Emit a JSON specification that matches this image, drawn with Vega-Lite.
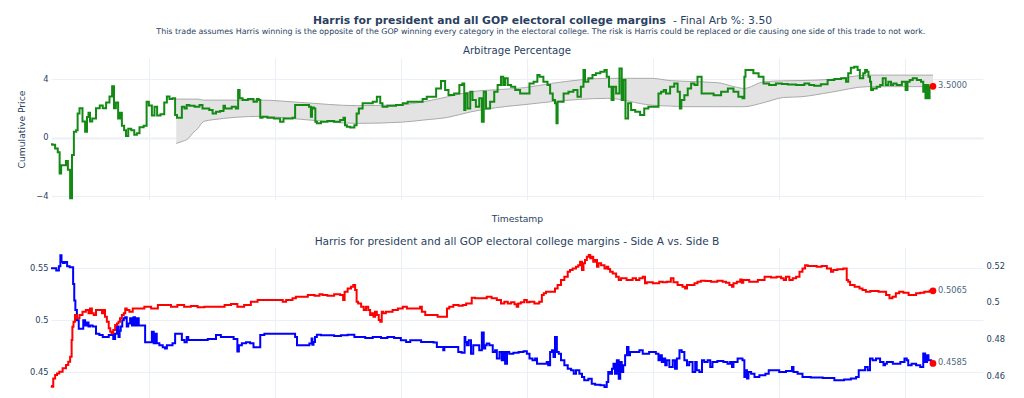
{
"$schema": "https://vega.github.io/schema/vega-lite/v6.json",
"background": "white",
"padding": {"left": 17, "top": 15, "right": 5, "bottom": 0},
"bounds": "flush",
"config": {
  "font": "DejaVu Sans",
  "view": {"stroke": null},
  "axis": {"gridColor": "#EBF0F8", "gridWidth": 1, "domain": false, "ticks": false, "labelColor": "#2a3f5f", "labelFontSize": 8.3, "labelFont": "DejaVu Sans", "titleColor": "#2a3f5f", "titleFontSize": 9.2, "titleFontWeight": "normal", "titleFont": "DejaVu Sans", "labelPadding": 3, "labelOverlap": false},
  "title": {"font": "DejaVu Sans", "color": "#2a3f5f", "subtitleFont": "DejaVu Sans", "subtitleColor": "#2a3f5f"}
},
"title": {
  "text": "Harris for president and all GOP electoral college margins",
  "anchor": "start", "frame": "group", "dx": 262,
  "fontSize": 10.8, "fontWeight": "bold", "offset": -10.8
},
"datasets": {
"arb": [
{"h":0,"v":-0.45},{"h":4,"v":-0.5},{"h":7,"v":-0.75},{"h":11,"v":-1.0},{"h":12,"v":-2.45},{"h":15,"v":-1.9},{"h":19,"v":-1.9},{"h":21,"v":-1.6},{"h":24,"v":-2.2},{"h":27,"v":-4.15},{"h":29,"v":-1.2},{"h":32,"v":0.4},{"h":35,"v":0.5},{"h":36,"v":1.65},{"h":40,"v":2.0},{"h":44,"v":1.1},{"h":47,"v":0.4},{"h":49,"v":1.4},{"h":51,"v":1.7},{"h":53,"v":1.1},{"h":57,"v":1.3},{"h":63,"v":2.0},{"h":67,"v":2.2},{"h":71,"v":2.0},{"h":76,"v":2.4},{"h":80,"v":2.8},{"h":83,"v":3.5},{"h":85,"v":2.0},{"h":88,"v":2.4},{"h":91,"v":1.3},{"h":93,"v":1.7},{"h":96,"v":0.8},{"h":99,"v":0.5},{"h":101,"v":0.1},{"h":105,"v":0.6},{"h":109,"v":0.5},{"h":113,"v":0.2},{"h":116,"v":0.3},{"h":120,"v":0.7},{"h":127,"v":0.8},{"h":128,"v":2.45},{"h":133,"v":2.2},{"h":136,"v":1.5},{"h":140,"v":2.1},{"h":143,"v":1.5},{"h":149,"v":1.6},{"h":153,"v":2.4},{"h":156,"v":2.8},{"h":160,"v":2.63},{"h":164,"v":2.68},{"h":167,"v":1.54},{"h":169,"v":1.36},{"h":173,"v":1.36},{"h":176,"v":2.11},{"h":180,"v":1.99},{"h":182,"v":2.22},{"h":187,"v":2.18},{"h":196,"v":2.11},{"h":200,"v":2.22},{"h":204,"v":1.99},{"h":209,"v":1.99},{"h":213,"v":1.88},{"h":218,"v":1.65},{"h":222,"v":1.77},{"h":229,"v":1.81},{"h":231,"v":2.18},{"h":233,"v":1.99},{"h":238,"v":1.99},{"h":244,"v":2.11},{"h":249,"v":1.99},{"h":250,"v":3.25},{"h":253,"v":2.68},{"h":258,"v":2.56},{"h":267,"v":2.63},{"h":273,"v":2.45},{"h":276,"v":2.63},{"h":278,"v":2.56},{"h":280,"v":1.36},{"h":284,"v":1.42},{"h":293,"v":1.36},{"h":302,"v":1.31},{"h":309,"v":1.08},{"h":311,"v":1.31},{"h":320,"v":1.31},{"h":324,"v":1.36},{"h":327,"v":2.22},{"h":338,"v":2.22},{"h":342,"v":2.22},{"h":346,"v":2.11},{"h":347,"v":1.42},{"h":349,"v":2.05},{"h":352,"v":1.99},{"h":353,"v":1.08},{"h":356,"v":0.97},{"h":364,"v":1.08},{"h":373,"v":1.13},{"h":382,"v":1.08},{"h":389,"v":1.2},{"h":391,"v":1.36},{"h":393,"v":0.85},{"h":396,"v":0.74},{"h":402,"v":0.68},{"h":407,"v":0.85},{"h":408,"v":1.65},{"h":413,"v":1.99},{"h":418,"v":2.34},{"h":427,"v":2.34},{"h":431,"v":2.45},{"h":438,"v":2.79},{"h":440,"v":2.34},{"h":444,"v":2.11},{"h":453,"v":2.18},{"h":467,"v":2.22},{"h":471,"v":2.34},{"h":480,"v":2.45},{"h":493,"v":2.45},{"h":498,"v":2.63},{"h":504,"v":2.79},{"h":511,"v":2.79},{"h":516,"v":3.36},{"h":524,"v":3.86},{"h":527,"v":3.25},{"h":533,"v":2.91},{"h":542,"v":3.02},{"h":547,"v":3.59},{"h":550,"v":3.7},{"h":552,"v":1.88},{"h":553,"v":3.02},{"h":558,"v":1.99},{"h":560,"v":3.13},{"h":564,"v":2.56},{"h":569,"v":2.11},{"h":573,"v":2.68},{"h":576,"v":1.08},{"h":578,"v":3.13},{"h":582,"v":1.99},{"h":589,"v":2.45},{"h":593,"v":3.13},{"h":598,"v":3.59},{"h":602,"v":4.16},{"h":604,"v":3.59},{"h":607,"v":4.05},{"h":611,"v":3.59},{"h":616,"v":3.48},{"h":622,"v":3.25},{"h":629,"v":3.02},{"h":636,"v":3.02},{"h":640,"v":3.7},{"h":647,"v":3.82},{"h":650,"v":4.27},{"h":653,"v":4.16},{"h":660,"v":3.82},{"h":664,"v":3.59},{"h":667,"v":3.02},{"h":671,"v":2.56},{"h":673,"v":2.34},{"h":675,"v":0.97},{"h":676,"v":2.45},{"h":680,"v":2.45},{"h":687,"v":3.02},{"h":693,"v":3.13},{"h":700,"v":3.25},{"h":704,"v":2.79},{"h":709,"v":3.48},{"h":711,"v":4.62},{"h":713,"v":3.82},{"h":720,"v":4.05},{"h":724,"v":4.27},{"h":729,"v":4.39},{"h":736,"v":4.5},{"h":740,"v":4.62},{"h":742,"v":4.16},{"h":746,"v":3.48},{"h":749,"v":2.56},{"h":751,"v":3.48},{"h":756,"v":3.02},{"h":760,"v":4.73},{"h":762,"v":2.56},{"h":764,"v":3.93},{"h":768,"v":1.31},{"h":771,"v":2.34},{"h":776,"v":1.88},{"h":782,"v":1.77},{"h":789,"v":1.54},{"h":793,"v":1.99},{"h":800,"v":2.11},{"h":809,"v":2.11},{"h":811,"v":3.02},{"h":816,"v":3.13},{"h":818,"v":3.25},{"h":822,"v":3.02},{"h":829,"v":3.48},{"h":833,"v":3.7},{"h":838,"v":3.13},{"h":839,"v":1.99},{"h":842,"v":2.56},{"h":847,"v":2.9},{"h":851,"v":3.36},{"h":856,"v":3.7},{"h":860,"v":3.59},{"h":864,"v":4.16},{"h":871,"v":3.02},{"h":878,"v":3.02},{"h":889,"v":2.9},{"h":898,"v":3.13},{"h":907,"v":3.36},{"h":913,"v":3.13},{"h":920,"v":2.79},{"h":924,"v":2.68},{"h":925,"v":4.16},{"h":927,"v":4.62},{"h":933,"v":4.62},{"h":940,"v":4.39},{"h":947,"v":4.16},{"h":953,"v":3.7},{"h":962,"v":3.59},{"h":971,"v":3.7},{"h":978,"v":3.66},{"h":987,"v":3.62},{"h":1000,"v":3.59},{"h":1009,"v":3.7},{"h":1013,"v":3.59},{"h":1022,"v":3.54},{"h":1031,"v":3.64},{"h":1040,"v":3.93},{"h":1049,"v":4.0},{"h":1058,"v":4.05},{"h":1062,"v":3.82},{"h":1064,"v":4.39},{"h":1069,"v":4.78},{"h":1073,"v":4.84},{"h":1078,"v":4.62},{"h":1079,"v":4.05},{"h":1082,"v":4.05},{"h":1084,"v":4.39},{"h":1087,"v":4.62},{"h":1089,"v":4.5},{"h":1091,"v":4.16},{"h":1093,"v":3.82},{"h":1094,"v":3.25},{"h":1098,"v":3.36},{"h":1104,"v":3.48},{"h":1107,"v":3.59},{"h":1111,"v":4.05},{"h":1115,"v":3.59},{"h":1118,"v":3.82},{"h":1122,"v":3.59},{"h":1124,"v":3.7},{"h":1131,"v":3.59},{"h":1138,"v":3.82},{"h":1141,"v":3.25},{"h":1143,"v":3.82},{"h":1147,"v":3.93},{"h":1151,"v":4.05},{"h":1158,"v":3.93},{"h":1162,"v":3.82},{"h":1164,"v":3.13},{"h":1165,"v":3.59},{"h":1167,"v":2.68},{"h":1169,"v":3.59},{"h":1171,"v":2.68},{"h":1172,"v":3.48},{"h":1176,"v":3.5}
],
"band": [
{"h":167,"lo":-0.4,"hi":2.63},{"h":173,"lo":-0.3,"hi":2.63},{"h":183,"lo":-0.06,"hi":2.63},{"h":189,"lo":0.3,"hi":2.63},{"h":196,"lo":0.63,"hi":2.63},{"h":203,"lo":1.08,"hi":2.56},{"h":213,"lo":1.2,"hi":2.56},{"h":280,"lo":1.45,"hi":2.56},{"h":333,"lo":1.25,"hi":2.4},{"h":409,"lo":0.97,"hi":2.18},{"h":467,"lo":1.05,"hi":2.25},{"h":497,"lo":1.2,"hi":2.45},{"h":529,"lo":1.38,"hi":2.79},{"h":560,"lo":1.76,"hi":3.13},{"h":604,"lo":2.11,"hi":3.3},{"h":631,"lo":2.25,"hi":3.41},{"h":667,"lo":2.45,"hi":3.7},{"h":742,"lo":2.68,"hi":4.05},{"h":800,"lo":2.22,"hi":4.05},{"h":827,"lo":2.15,"hi":3.89},{"h":844,"lo":2.11,"hi":3.85},{"h":889,"lo":2.11,"hi":3.75},{"h":911,"lo":2.11,"hi":3.48},{"h":924,"lo":2.11,"hi":3.36},{"h":951,"lo":2.4,"hi":3.82},{"h":977,"lo":2.74,"hi":3.88},{"h":1000,"lo":2.79,"hi":3.9},{"h":1040,"lo":3.1,"hi":3.98},{"h":1089,"lo":3.48,"hi":4.27},{"h":1176,"lo":3.48,"hi":4.27}
],
"sideA": [
{"h":0,"p":0.55},{"h":5,"p":0.55},{"h":9,"p":0.548},{"h":12,"p":0.552},{"h":13,"p":0.5625},{"h":15,"p":0.556},{"h":17,"p":0.555},{"h":20,"p":0.556},{"h":23,"p":0.552},{"h":27,"p":0.551},{"h":29,"p":0.551},{"h":30,"p":0.535},{"h":32,"p":0.519},{"h":33,"p":0.51},{"h":36,"p":0.5},{"h":38,"p":0.492},{"h":42,"p":0.492},{"h":44,"p":0.5},{"h":47,"p":0.495},{"h":49,"p":0.498},{"h":51,"p":0.494},{"h":53,"p":0.495},{"h":58,"p":0.494},{"h":62,"p":0.487},{"h":67,"p":0.486},{"h":71,"p":0.484},{"h":76,"p":0.484},{"h":78,"p":0.486},{"h":80,"p":0.486},{"h":82,"p":0.487},{"h":84,"p":0.482},{"h":87,"p":0.487},{"h":89,"p":0.494},{"h":91,"p":0.484},{"h":92,"p":0.49},{"h":94,"p":0.494},{"h":96,"p":0.5},{"h":98,"p":0.502},{"h":100,"p":0.503},{"h":102,"p":0.494},{"h":104,"p":0.497},{"h":107,"p":0.502},{"h":109,"p":0.495},{"h":111,"p":0.503},{"h":113,"p":0.495},{"h":116,"p":0.502},{"h":118,"p":0.495},{"h":124,"p":0.495},{"h":127,"p":0.479},{"h":129,"p":0.479},{"h":133,"p":0.479},{"h":136,"p":0.489},{"h":138,"p":0.478},{"h":140,"p":0.487},{"h":142,"p":0.478},{"h":147,"p":0.476},{"h":151,"p":0.474},{"h":153,"p":0.473},{"h":156,"p":0.476},{"h":160,"p":0.476},{"h":164,"p":0.478},{"h":167,"p":0.487},{"h":173,"p":0.487},{"h":176,"p":0.481},{"h":180,"p":0.479},{"h":182,"p":0.484},{"h":184,"p":0.481},{"h":200,"p":0.481},{"h":218,"p":0.482},{"h":222,"p":0.486},{"h":231,"p":0.484},{"h":240,"p":0.484},{"h":247,"p":0.482},{"h":250,"p":0.47},{"h":251,"p":0.476},{"h":258,"p":0.478},{"h":262,"p":0.479},{"h":269,"p":0.478},{"h":271,"p":0.474},{"h":278,"p":0.474},{"h":280,"p":0.486},{"h":289,"p":0.487},{"h":320,"p":0.4872},{"h":324,"p":0.4872},{"h":327,"p":0.484},{"h":329,"p":0.476},{"h":342,"p":0.476},{"h":347,"p":0.4776},{"h":348,"p":0.4824},{"h":349,"p":0.4766},{"h":351,"p":0.4792},{"h":353,"p":0.484},{"h":356,"p":0.4862},{"h":364,"p":0.4856},{"h":373,"p":0.4856},{"h":382,"p":0.4849},{"h":391,"p":0.4856},{"h":400,"p":0.4862},{"h":409,"p":0.484},{"h":416,"p":0.484},{"h":422,"p":0.483},{"h":436,"p":0.484},{"h":444,"p":0.483},{"h":453,"p":0.484},{"h":462,"p":0.483},{"h":471,"p":0.4808},{"h":476,"p":0.4792},{"h":482,"p":0.4808},{"h":489,"p":0.4808},{"h":498,"p":0.4792},{"h":507,"p":0.4792},{"h":513,"p":0.4786},{"h":516,"p":0.4743},{"h":522,"p":0.4743},{"h":524,"p":0.4712},{"h":525,"p":0.4743},{"h":542,"p":0.4743},{"h":544,"p":0.4695},{"h":551,"p":0.4689},{"h":552,"p":0.484},{"h":553,"p":0.4792},{"h":556,"p":0.476},{"h":558,"p":0.4808},{"h":562,"p":0.4679},{"h":564,"p":0.476},{"h":569,"p":0.476},{"h":573,"p":0.4712},{"h":576,"p":0.4882},{"h":578,"p":0.4728},{"h":580,"p":0.476},{"h":582,"p":0.4776},{"h":587,"p":0.476},{"h":591,"p":0.4695},{"h":593,"p":0.4712},{"h":596,"p":0.4632},{"h":600,"p":0.4695},{"h":602,"p":0.4615},{"h":604,"p":0.4695},{"h":607,"p":0.4583},{"h":609,"p":0.4695},{"h":613,"p":0.4679},{"h":620,"p":0.4689},{"h":627,"p":0.4695},{"h":633,"p":0.4702},{"h":636,"p":0.4679},{"h":640,"p":0.4632},{"h":644,"p":0.4615},{"h":647,"p":0.4632},{"h":649,"p":0.4583},{"h":660,"p":0.4583},{"h":662,"p":0.4599},{"h":664,"p":0.4567},{"h":667,"p":0.4695},{"h":669,"p":0.4712},{"h":671,"p":0.4647},{"h":673,"p":0.484},{"h":676,"p":0.4695},{"h":678,"p":0.4679},{"h":682,"p":0.4615},{"h":687,"p":0.4567},{"h":691,"p":0.4535},{"h":696,"p":0.4519},{"h":698,"p":0.4487},{"h":702,"p":0.4519},{"h":707,"p":0.4487},{"h":709,"p":0.4455},{"h":713,"p":0.4423},{"h":720,"p":0.4439},{"h":722,"p":0.4391},{"h":729,"p":0.4381},{"h":736,"p":0.4375},{"h":740,"p":0.4359},{"h":742,"p":0.4407},{"h":744,"p":0.4503},{"h":747,"p":0.4487},{"h":749,"p":0.4535},{"h":751,"p":0.4583},{"h":753,"p":0.4487},{"h":756,"p":0.4615},{"h":758,"p":0.4439},{"h":760,"p":0.4599},{"h":762,"p":0.4503},{"h":764,"p":0.4567},{"h":767,"p":0.4663},{"h":769,"p":0.4743},{"h":771,"p":0.4663},{"h":773,"p":0.4695},{"h":782,"p":0.4695},{"h":787,"p":0.4712},{"h":791,"p":0.4679},{"h":804,"p":0.4695},{"h":809,"p":0.4679},{"h":811,"p":0.4615},{"h":813,"p":0.4663},{"h":816,"p":0.4599},{"h":818,"p":0.4632},{"h":820,"p":0.4567},{"h":822,"p":0.4615},{"h":827,"p":0.4551},{"h":831,"p":0.4615},{"h":833,"p":0.4535},{"h":836,"p":0.4632},{"h":840,"p":0.4712},{"h":842,"p":0.4695},{"h":847,"p":0.4615},{"h":849,"p":0.4567},{"h":853,"p":0.4599},{"h":858,"p":0.4503},{"h":860,"p":0.4599},{"h":862,"p":0.4519},{"h":867,"p":0.4503},{"h":869,"p":0.4615},{"h":873,"p":0.4599},{"h":878,"p":0.4615},{"h":880,"p":0.4551},{"h":884,"p":0.4599},{"h":893,"p":0.4609},{"h":900,"p":0.4599},{"h":904,"p":0.4583},{"h":907,"p":0.4599},{"h":909,"p":0.4551},{"h":911,"p":0.4599},{"h":920,"p":0.4632},{"h":924,"p":0.4615},{"h":925,"p":0.4455},{"h":927,"p":0.4519},{"h":929,"p":0.444},{"h":931,"p":0.4503},{"h":936,"p":0.4487},{"h":940,"p":0.4455},{"h":949,"p":0.4471},{"h":956,"p":0.4487},{"h":958,"p":0.4519},{"h":969,"p":0.4519},{"h":973,"p":0.4503},{"h":987,"p":0.4513},{"h":989,"p":0.4551},{"h":991,"p":0.4503},{"h":1000,"p":0.4487},{"h":1004,"p":0.4455},{"h":1022,"p":0.4449},{"h":1036,"p":0.4446},{"h":1053,"p":0.4423},{"h":1062,"p":0.443},{"h":1071,"p":0.444},{"h":1076,"p":0.4455},{"h":1078,"p":0.4519},{"h":1084,"p":0.4519},{"h":1087,"p":0.4551},{"h":1091,"p":0.4519},{"h":1093,"p":0.4632},{"h":1098,"p":0.4615},{"h":1102,"p":0.4632},{"h":1109,"p":0.4599},{"h":1111,"p":0.4567},{"h":1113,"p":0.4583},{"h":1116,"p":0.4599},{"h":1129,"p":0.4583},{"h":1136,"p":0.4599},{"h":1140,"p":0.4632},{"h":1142,"p":0.4615},{"h":1144,"p":0.4567},{"h":1151,"p":0.4583},{"h":1156,"p":0.4567},{"h":1162,"p":0.4551},{"h":1164,"p":0.468},{"h":1167,"p":0.4599},{"h":1169,"p":0.4663},{"h":1171,"p":0.4615},{"h":1176,"p":0.4585}
],
"sideB": [
{"h":0,"p":0.4545},{"h":2,"p":0.4542},{"h":4,"p":0.4587},{"h":7,"p":0.4605},{"h":9,"p":0.4614},{"h":13,"p":0.4623},{"h":18,"p":0.4642},{"h":22,"p":0.466},{"h":24,"p":0.4678},{"h":27,"p":0.4705},{"h":28,"p":0.4796},{"h":29,"p":0.4869},{"h":31,"p":0.4896},{"h":33,"p":0.4933},{"h":36,"p":0.4915},{"h":40,"p":0.4933},{"h":44,"p":0.4951},{"h":49,"p":0.496},{"h":51,"p":0.4942},{"h":53,"p":0.4969},{"h":56,"p":0.4942},{"h":58,"p":0.4933},{"h":62,"p":0.496},{"h":67,"p":0.496},{"h":69,"p":0.4942},{"h":71,"p":0.496},{"h":73,"p":0.4924},{"h":76,"p":0.4896},{"h":78,"p":0.486},{"h":80,"p":0.4842},{"h":82,"p":0.4833},{"h":84,"p":0.4851},{"h":87,"p":0.4878},{"h":89,"p":0.4887},{"h":91,"p":0.4896},{"h":93,"p":0.4915},{"h":96,"p":0.4933},{"h":98,"p":0.4942},{"h":100,"p":0.4969},{"h":102,"p":0.496},{"h":107,"p":0.4951},{"h":111,"p":0.4969},{"h":120,"p":0.4969},{"h":129,"p":0.4978},{"h":138,"p":0.4969},{"h":147,"p":0.4987},{"h":156,"p":0.4987},{"h":164,"p":0.4978},{"h":173,"p":0.4987},{"h":182,"p":0.4978},{"h":191,"p":0.4982},{"h":200,"p":0.4975},{"h":209,"p":0.4978},{"h":218,"p":0.4978},{"h":227,"p":0.4978},{"h":236,"p":0.4987},{"h":244,"p":0.4993},{"h":253,"p":0.4978},{"h":262,"p":0.4987},{"h":271,"p":0.5005},{"h":280,"p":0.5015},{"h":289,"p":0.5015},{"h":307,"p":0.5015},{"h":311,"p":0.5005},{"h":316,"p":0.5015},{"h":320,"p":0.5015},{"h":324,"p":0.5024},{"h":329,"p":0.5033},{"h":338,"p":0.5033},{"h":347,"p":0.5042},{"h":356,"p":0.5038},{"h":360,"p":0.5046},{"h":364,"p":0.5042},{"h":373,"p":0.5038},{"h":382,"p":0.5046},{"h":389,"p":0.5042},{"h":390,"p":0.5015},{"h":393,"p":0.506},{"h":398,"p":0.5078},{"h":402,"p":0.5087},{"h":404,"p":0.5096},{"h":407,"p":0.5069},{"h":408,"p":0.5005},{"h":411,"p":0.4996},{"h":416,"p":0.4978},{"h":418,"p":0.496},{"h":422,"p":0.4978},{"h":424,"p":0.496},{"h":427,"p":0.4933},{"h":429,"p":0.4942},{"h":431,"p":0.4924},{"h":433,"p":0.4951},{"h":436,"p":0.4933},{"h":438,"p":0.4905},{"h":440,"p":0.4896},{"h":442,"p":0.4951},{"h":444,"p":0.4942},{"h":449,"p":0.4951},{"h":453,"p":0.4951},{"h":458,"p":0.496},{"h":467,"p":0.4969},{"h":471,"p":0.4978},{"h":478,"p":0.4969},{"h":491,"p":0.4969},{"h":493,"p":0.4978},{"h":496,"p":0.4951},{"h":502,"p":0.4933},{"h":511,"p":0.4933},{"h":520,"p":0.4924},{"h":527,"p":0.4924},{"h":529,"p":0.4969},{"h":533,"p":0.4978},{"h":540,"p":0.4987},{"h":547,"p":0.4983},{"h":551,"p":0.4987},{"h":556,"p":0.4996},{"h":560,"p":0.4996},{"h":562,"p":0.5027},{"h":569,"p":0.5024},{"h":578,"p":0.5024},{"h":584,"p":0.5033},{"h":591,"p":0.5024},{"h":598,"p":0.5015},{"h":602,"p":0.4996},{"h":607,"p":0.5005},{"h":611,"p":0.4996},{"h":616,"p":0.5002},{"h":620,"p":0.4991},{"h":622,"p":0.4978},{"h":624,"p":0.4996},{"h":629,"p":0.5002},{"h":633,"p":0.5015},{"h":636,"p":0.5002},{"h":640,"p":0.5005},{"h":649,"p":0.4996},{"h":653,"p":0.5005},{"h":656,"p":0.5042},{"h":658,"p":0.5051},{"h":662,"p":0.506},{"h":671,"p":0.506},{"h":673,"p":0.5078},{"h":678,"p":0.5096},{"h":682,"p":0.5124},{"h":687,"p":0.5142},{"h":691,"p":0.5169},{"h":693,"p":0.5178},{"h":698,"p":0.5187},{"h":702,"p":0.5196},{"h":704,"p":0.5205},{"h":707,"p":0.5224},{"h":709,"p":0.5178},{"h":711,"p":0.5215},{"h":713,"p":0.5233},{"h":716,"p":0.5251},{"h":718,"p":0.526},{"h":720,"p":0.5242},{"h":722,"p":0.5251},{"h":724,"p":0.5224},{"h":727,"p":0.5233},{"h":729,"p":0.5196},{"h":731,"p":0.5215},{"h":736,"p":0.5205},{"h":740,"p":0.5187},{"h":742,"p":0.5196},{"h":744,"p":0.5184},{"h":747,"p":0.5169},{"h":751,"p":0.516},{"h":756,"p":0.5142},{"h":758,"p":0.5124},{"h":762,"p":0.5133},{"h":773,"p":0.5124},{"h":778,"p":0.5133},{"h":782,"p":0.5124},{"h":787,"p":0.5133},{"h":791,"p":0.5142},{"h":793,"p":0.5106},{"h":796,"p":0.5111},{"h":809,"p":0.5106},{"h":813,"p":0.5115},{"h":818,"p":0.5111},{"h":824,"p":0.5115},{"h":829,"p":0.5133},{"h":831,"p":0.5111},{"h":840,"p":0.5096},{"h":844,"p":0.5087},{"h":847,"p":0.5078},{"h":849,"p":0.5096},{"h":856,"p":0.5096},{"h":860,"p":0.5106},{"h":864,"p":0.5115},{"h":869,"p":0.512},{"h":876,"p":0.5118},{"h":884,"p":0.5115},{"h":893,"p":0.512},{"h":898,"p":0.5115},{"h":902,"p":0.5109},{"h":907,"p":0.5096},{"h":909,"p":0.5087},{"h":911,"p":0.5106},{"h":918,"p":0.5115},{"h":920,"p":0.5127},{"h":922,"p":0.5109},{"h":924,"p":0.5124},{"h":938,"p":0.5115},{"h":947,"p":0.5124},{"h":956,"p":0.5142},{"h":964,"p":0.5138},{"h":971,"p":0.5142},{"h":976,"p":0.5133},{"h":978,"p":0.5124},{"h":982,"p":0.5142},{"h":987,"p":0.5124},{"h":991,"p":0.5133},{"h":996,"p":0.5142},{"h":1000,"p":0.5169},{"h":1004,"p":0.5187},{"h":1007,"p":0.5205},{"h":1011,"p":0.52},{"h":1018,"p":0.52},{"h":1024,"p":0.5196},{"h":1031,"p":0.52},{"h":1038,"p":0.5187},{"h":1042,"p":0.5169},{"h":1044,"p":0.5178},{"h":1053,"p":0.5182},{"h":1060,"p":0.5187},{"h":1062,"p":0.5124},{"h":1064,"p":0.5115},{"h":1067,"p":0.5096},{"h":1076,"p":0.5087},{"h":1080,"p":0.5078},{"h":1084,"p":0.5069},{"h":1089,"p":0.506},{"h":1096,"p":0.5064},{"h":1111,"p":0.506},{"h":1116,"p":0.5042},{"h":1120,"p":0.5024},{"h":1124,"p":0.5033},{"h":1129,"p":0.5051},{"h":1133,"p":0.506},{"h":1140,"p":0.5055},{"h":1147,"p":0.5042},{"h":1151,"p":0.5042},{"h":1156,"p":0.5051},{"h":1162,"p":0.5055},{"h":1167,"p":0.506},{"h":1176,"p":0.5065}
]
},
"vconcat": [
{
"title": {"text": "- Final Arb %: 3.50", "anchor": "start", "frame": "group", "dx": 622, "fontSize": 10.8, "fontWeight": "normal", "offset": 2},
"bounds": "flush",
"spacing": 47,
"vconcat": [
{
  "width": 932, "height": 142,
  "title": {"text": "\u200b\u00a0\u00a0\u00a0\u00a0\u00a0\u00a0\u00a0\u00a0\u00a0\u00a0\u00a0\u00a0\u00a0\u00a0\u00a0\u00a0\u00a0\u00a0\u00a0This trade assumes Harris winning is the opposite of the GOP winning every category in the electoral college. The risk is Harris could be replaced or die causing one side of this trade to not work.", "subtitle": "Arbitrage Percentage", "anchor": "middle", "frame": "group", "fontSize": 7.9, "fontWeight": "normal", "subtitleFontSize": 10.2, "subtitlePadding": 10, "offset": 2},
  "encoding": {
    "x": {"field": "h", "type": "quantitative", "scale": {"domain": [0, 1242.7], "nice": false, "zero": false}, "axis": {"values": [130.7, 298.7, 466.7, 634.7, 802.7, 970.7, 1138.7], "labels": false, "title": "Timestamp", "titlePadding": 14}}
  },
  "layer": [
    {"data": {"name": "band"}, "mark": {"type": "area", "color": "#e3e3e3", "opacity": 1, "interpolate": "monotone"},
     "encoding": {"y": {"field": "lo", "type": "quantitative", "title": "Cumulative Price", "scale": {"domain": [-4.27, 5.44], "nice": false, "zero": false}, "axis": {"values": [-4, -2, 0, 2, 4], "titlePadding": 9, "gridWidth": {"condition": {"test": "datum.value === 0", "value": 2}, "value": 1}}}, "y2": {"field": "hi"}}},
    {"data": {"name": "band"}, "mark": {"type": "line", "color": "#aaaaaa", "strokeWidth": 1, "interpolate": "monotone"},
     "encoding": {"y": {"field": "lo", "type": "quantitative", "title": "Cumulative Price"}}},
    {"data": {"name": "band"}, "mark": {"type": "line", "color": "#aaaaaa", "strokeWidth": 1, "interpolate": "monotone"},
     "encoding": {"y": {"field": "hi", "type": "quantitative", "title": "Cumulative Price"}}},
    {"data": {"name": "arb"}, "mark": {"type": "line", "color": "#138a13", "strokeWidth": 2, "interpolate": "step"},
     "encoding": {"y": {"field": "v", "type": "quantitative", "title": "Cumulative Price"}}},
    {"data": {"name": "arb"}, "transform": [{"filter": "datum.h == 1176"}], "mark": {"type": "point", "filled": true, "color": "#ff0000", "opacity": 1, "size": 45},
     "encoding": {"y": {"field": "v", "type": "quantitative", "title": "Cumulative Price"}}},
    {"data": {"name": "arb"}, "transform": [{"filter": "datum.h == 1176"}], "mark": {"type": "text", "align": "left", "baseline": "middle", "dx": 5, "fontSize": 8.3, "color": "#506784"},
     "encoding": {"y": {"field": "v", "type": "quantitative", "title": "Cumulative Price"}, "text": {"field": "v", "type": "quantitative", "format": ".4f"}}}
  ]
},
{
  "width": 932, "height": 151,
  "title": {"text": "Harris for president and all GOP electoral college margins - Side A vs. Side B", "anchor": "middle", "frame": "group", "fontSize": 10.6, "fontWeight": "normal", "offset": -0.5},
  "encoding": {
    "x": {"field": "h", "type": "quantitative", "scale": {"domain": [0, 1242.7], "nice": false, "zero": false}, "axis": {"values": [130.7, 298.7, 466.7, 634.7, 802.7, 970.7, 1138.7], "labels": false, "title": null}}
  },
  "layer": [
    {"data": {"name": "sideA"},
     "encoding": {"y": {"field": "p", "type": "quantitative", "title": null, "scale": {"domain": [0.4253, 0.5705], "nice": false, "zero": false}, "axis": {"orient": "left", "values": [0.45, 0.5, 0.55], "format": ".2~f"}}},
     "layer": [
       {"mark": {"type": "line", "color": "#0000ff", "strokeWidth": 2, "interpolate": "step"}},
       {"transform": [{"filter": "datum.h == 1176"}], "mark": {"type": "point", "filled": true, "color": "#ff0000", "opacity": 1, "size": 45}},
       {"transform": [{"filter": "datum.h == 1176"}], "mark": {"type": "text", "align": "left", "baseline": "middle", "dx": 5, "fontSize": 8.3, "color": "#506784"}, "encoding": {"text": {"field": "p", "type": "quantitative", "format": ".4f"}}}
     ]},
    {"data": {"name": "sideB"},
     "encoding": {"y": {"field": "p", "type": "quantitative", "title": null, "scale": {"domain": [0.448, 0.5304], "nice": false, "zero": false}, "axis": {"orient": "right", "values": [0.46, 0.48, 0.5, 0.52], "format": ".2~f"}}},
     "layer": [
       {"mark": {"type": "line", "color": "#ff0000", "strokeWidth": 2, "interpolate": "step"}},
       {"transform": [{"filter": "datum.h == 1176"}], "mark": {"type": "point", "filled": true, "color": "#ff0000", "opacity": 1, "size": 45}},
       {"transform": [{"filter": "datum.h == 1176"}], "mark": {"type": "text", "align": "left", "baseline": "middle", "dx": 5, "fontSize": 8.3, "color": "#506784"}, "encoding": {"text": {"field": "p", "type": "quantitative", "format": ".4f"}}}
     ]}
  ],
  "resolve": {"scale": {"y": "independent"}}
}
]
}
]
}
